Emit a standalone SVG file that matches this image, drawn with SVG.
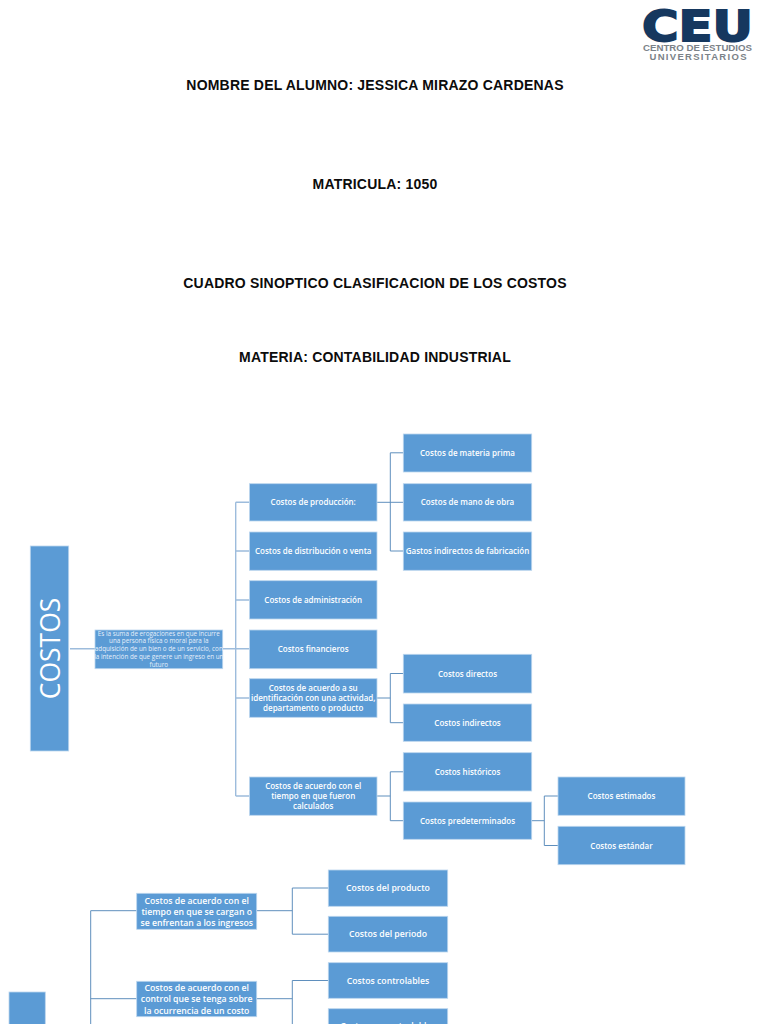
<svg xmlns="http://www.w3.org/2000/svg" width="768" height="1024" viewBox="0 0 768 1024">
<style>
.t{font-family:"Liberation Sans",Arial,sans-serif;font-weight:700;font-size:14px;letter-spacing:.2px;fill:#0c0c0c;text-anchor:middle}
.b{fill:#5b9bd5;stroke:#bcd6ee;stroke-width:.8}
.l{font-family:"Open Sans","Noto Sans",sans-serif;font-weight:600;font-size:8px;fill:#fff;text-anchor:middle}
.m{font-family:"Open Sans","Noto Sans",sans-serif;font-weight:600;font-size:8.7px;fill:#fff;text-anchor:middle}
.d{font-family:"Open Sans","Noto Sans",sans-serif;font-size:6.3px;fill:#e6effa;text-anchor:middle}
.c{fill:none;stroke:#5f8fbd;stroke-width:1}
.c2{fill:none;stroke:#9dbcdc;stroke-width:1.4}
</style>
<rect width="768" height="1024" fill="#fff"/>
<g id="logo">
<text x="697.5" y="40.5" text-anchor="middle" textLength="111" lengthAdjust="spacingAndGlyphs" font-family="'DejaVu Sans',sans-serif" font-weight="700" font-size="43" fill="#16385f" stroke="#16385f" stroke-width="1.8">CEU</text>
<text x="697.5" y="51" text-anchor="middle" textLength="109" lengthAdjust="spacingAndGlyphs" font-family="'Liberation Sans',sans-serif" font-weight="700" font-size="9.5" fill="#7b8288">CENTRO DE ESTUDIOS</text>
<text x="698" y="59.5" text-anchor="middle" textLength="97" lengthAdjust="spacing" font-family="'Liberation Sans',sans-serif" font-weight="700" font-size="9.5" fill="#7b8288">UNIVERSITARIOS</text>
</g>
<g id="titles">
<text class="t" x="375" y="90">NOMBRE DEL ALUMNO: JESSICA MIRAZO CARDENAS</text>
<text class="t" x="375" y="189">MATRICULA: 1050</text>
<text class="t" x="375" y="288">CUADRO SINOPTICO CLASIFICACION DE LOS COSTOS</text>
<text class="t" x="375" y="362">MATERIA: CONTABILIDAD INDUSTRIAL</text>
</g>
<g id="connectors">
<path class="c2" d="M70 648.7H95M222.7 648.7H249.5M235.7 502.3V796M235.7 502.3H249.5M235.7 551H249.5M235.7 600H249.5M235.7 698H249.5M235.7 796H249.5"/>
<path class="c" d="M377 502.3H403.3M390.3 452.8V551H403.3M390.3 452.8H403.3M377 698H390.3M390.3 673.5V722.7H403.3M390.3 673.5H403.3M377 796H390.3M390.3 771.8V820.7H403.3M390.3 771.8H403.3M531.7 820.7H544.3M544.3 796V845.5H558M544.3 796H558"/>
<path class="c" d="M90.7 1024V910.7H136.7M90.7 998.7H136.7M256.7 910.7H292.3M292.3 888V934.2H328.3M292.3 888H328.3M256.7 998.7H292.3M292.3 1024V980.5H328.3"/>
</g>
<g id="n-costos"><rect class="b" x="30.3" y="546" width="38.4" height="205"/><text transform="translate(59.5,648.5) rotate(-90)" text-anchor="middle" font-family="'Open Sans',sans-serif" font-size="26.5" fill="#fff">COSTOS</text></g>
<g id="n-def"><rect class="b" x="95" y="630" width="127.7" height="38.7"/>
<text class="d"><tspan x="158.8" y="635.5">Es la suma de erogaciones en que incurre</tspan><tspan x="158.8" y="643">una persona física o moral para la</tspan><tspan x="158.8" y="651">adquisición de un bien o de un servicio, con</tspan><tspan x="158.8" y="658.7">la intención de que genere un ingreso en un</tspan><tspan x="158.8" y="666.5">futuro</tspan></text></g>
<g id="n-produccion"><rect class="b" x="249.5" y="483.7" width="127.5" height="37.3"/><text class="l" x="313.2" y="505">Costos de producción:</text></g>
<g id="n-distribucion"><rect class="b" x="249.5" y="532" width="127.5" height="38.3"/><text class="l" x="313.2" y="553.5">Costos de distribución o venta</text></g>
<g id="n-admin"><rect class="b" x="249.5" y="580.7" width="127.5" height="38.3"/><text class="l" x="313.2" y="602.5">Costos de administración</text></g>
<g id="n-financieros"><rect class="b" x="249.5" y="630" width="127.5" height="38.7"/><text class="l" x="313.2" y="651.5">Costos financieros</text></g>
<g id="n-identificacion"><rect class="b" x="249.5" y="678.7" width="127.5" height="38.6"/><text class="l"><tspan x="313.2" y="691">Costos de acuerdo a su</tspan><tspan x="313.2" y="701">identificación con una actividad,</tspan><tspan x="313.2" y="711">departamento o producto</tspan></text></g>
<g id="n-tiempo"><rect class="b" x="249.5" y="777" width="127.5" height="38.3"/><text class="l"><tspan x="313.2" y="789">Costos de acuerdo con el</tspan><tspan x="313.2" y="799">tiempo en que fueron</tspan><tspan x="313.2" y="809">calculados</tspan></text></g>
<g id="n-materia"><rect class="b" x="403.3" y="434" width="128.4" height="38"/><text class="l" x="467.5" y="455.5">Costos de materia prima</text></g>
<g id="n-mano"><rect class="b" x="403.3" y="483.7" width="128.4" height="37.3"/><text class="l" x="467.5" y="505">Costos de mano de obra</text></g>
<g id="n-gastos"><rect class="b" x="403.3" y="532" width="128.4" height="38.3"/><text class="l" x="467.5" y="553.5">Gastos indirectos de fabricación</text></g>
<g id="n-directos"><rect class="b" x="403.3" y="654.3" width="128.4" height="38.7"/><text class="l" x="467.5" y="676.5">Costos directos</text></g>
<g id="n-indirectos"><rect class="b" x="403.3" y="704" width="128.4" height="37.3"/><text class="l" x="467.5" y="725.5">Costos indirectos</text></g>
<g id="n-historicos"><rect class="b" x="403.3" y="752.7" width="128.4" height="38.3"/><text class="l" x="467.5" y="775">Costos históricos</text></g>
<g id="n-predeterminados"><rect class="b" x="403.3" y="802" width="128.4" height="37.3"/><text class="l" x="467.5" y="823.5">Costos predeterminados</text></g>
<g id="n-estimados"><rect class="b" x="558" y="777" width="127" height="38.3"/><text class="l" x="621.5" y="799">Costos estimados</text></g>
<g id="n-estandar"><rect class="b" x="558" y="826.3" width="127" height="38.4"/><text class="l" x="621.5" y="848.5">Costos estándar</text></g>
<g id="n-left2"><rect class="b" x="9" y="992" width="36.3" height="40"/></g>
<g id="n-cargan"><rect class="b" x="136.7" y="893.3" width="120" height="36"/><text class="m"><tspan x="196.7" y="903.5">Costos de acuerdo con el</tspan><tspan x="196.7" y="914.5">tiempo en que se cargan o</tspan><tspan x="196.7" y="926">se enfrentan a los ingresos</tspan></text></g>
<g id="n-control"><rect class="b" x="136.7" y="981.3" width="120" height="35.4"/><text class="m"><tspan x="196.7" y="991">Costos de acuerdo con el</tspan><tspan x="196.7" y="1002">control que se tenga sobre</tspan><tspan x="196.7" y="1014">la ocurrencia de un costo</tspan></text></g>
<g id="n-producto"><rect class="b" x="328.3" y="870" width="119.4" height="36.3"/><text class="m" x="388" y="891">Costos del producto</text></g>
<g id="n-periodo"><rect class="b" x="328.3" y="916.3" width="119.4" height="35.7"/><text class="m" x="388" y="937">Costos del periodo</text></g>
<g id="n-controlables"><rect class="b" x="328.3" y="962.7" width="119.4" height="35.6"/><text class="m" x="388" y="983.5">Costos controlables</text></g>
<g id="n-nocontrolables"><rect class="b" x="328.3" y="1008.7" width="119.4" height="40"/><text class="m" x="388" y="1029">Costos no controlables</text></g>
</svg>
